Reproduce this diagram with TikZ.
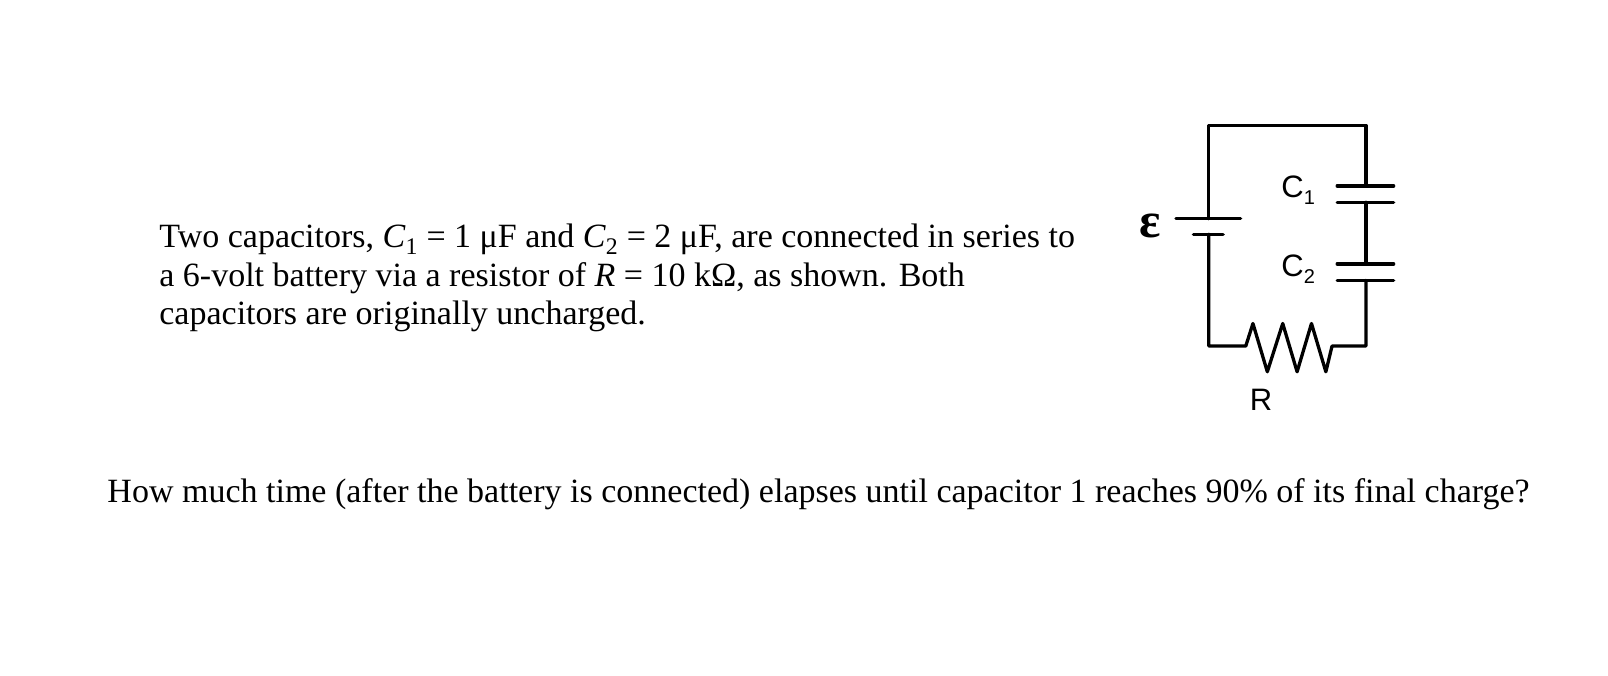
\documentclass[tikz,border=0pt]{standalone}
\usepackage{fontspec}
\setmainfont{Liberation Serif}
\newfontfamily\arialf{Liberation Sans}
\begin{document}
\begin{tikzpicture}[x=1.027pt,y=-1.027pt,wire/.style={line width=3.3pt,line join=round,line cap=round},
  txt/.style={font=\fontsize{34}{38.5}\selectfont,inner sep=0pt},
  lbl/.style={font=\arialf\fontsize{31}{31}\selectfont,inner sep=0pt}]
\useasboundingbox (0pt,0pt) rectangle (1608pt,-676pt);
% corners
\coordinate (tl) at (1177,122); \coordinate (tr) at (1330,122);
\coordinate (bl) at (1177,337); \coordinate (br) at (1330,337);
% battery
\coordinate (bp) at (1177,213); \coordinate (bn) at (1177,228);
\draw[wire] (bp) -- (tl) -- (tr) -- (1330,181);
\draw[wire] (1145,213) -- (1208,213);
\draw[wire] (1162,228) -- (1191,228);
\draw[wire] (bn) -- (bl) -- (1213,337) -- (1220,315) -- (1234,362) -- (1249,315) -- (1263,362) -- (1277,315) -- (1291,362) -- (1297,337) -- (br) -- (1330,273);
% capacitors
\draw[wire] (1302,181) -- (1357,181); \draw[wire] (1302,197) -- (1357,197);
\draw[wire] (1330,197) -- (1330,257);
\draw[wire] (1302,257) -- (1357,257); \draw[wire] (1302,273) -- (1357,273);
\node[inner sep=0pt,font=\bfseries\fontsize{50}{50}\selectfont] (eps) at (1120,220) {ε};
\node[lbl] (c1) at (1264,185) {C\raisebox{-0.45ex}{\fontsize{20}{20}\selectfont 1}};
\node[lbl] (c2) at (1264,262) {C\raisebox{-0.45ex}{\fontsize{20}{20}\selectfont 2}};
\node[lbl] (r) at (1228,389) {R};
\node[txt,anchor=north west,align=left] (para) at (155,218) {Two capacitors, \textit{C}\textsubscript{1} = 1 μF and \textit{C}\textsubscript{2} = 2 μF, are connected in series to\\a 6-volt battery via a resistor of \textit{R} = 10 kΩ, as shown. Both\\capacitors are originally uncharged.};
\node[txt] (q) at (797,481) {How much time (after the battery is connected) elapses until capacitor 1 reaches 90\% of its final charge?};
\end{tikzpicture}
\end{document}
